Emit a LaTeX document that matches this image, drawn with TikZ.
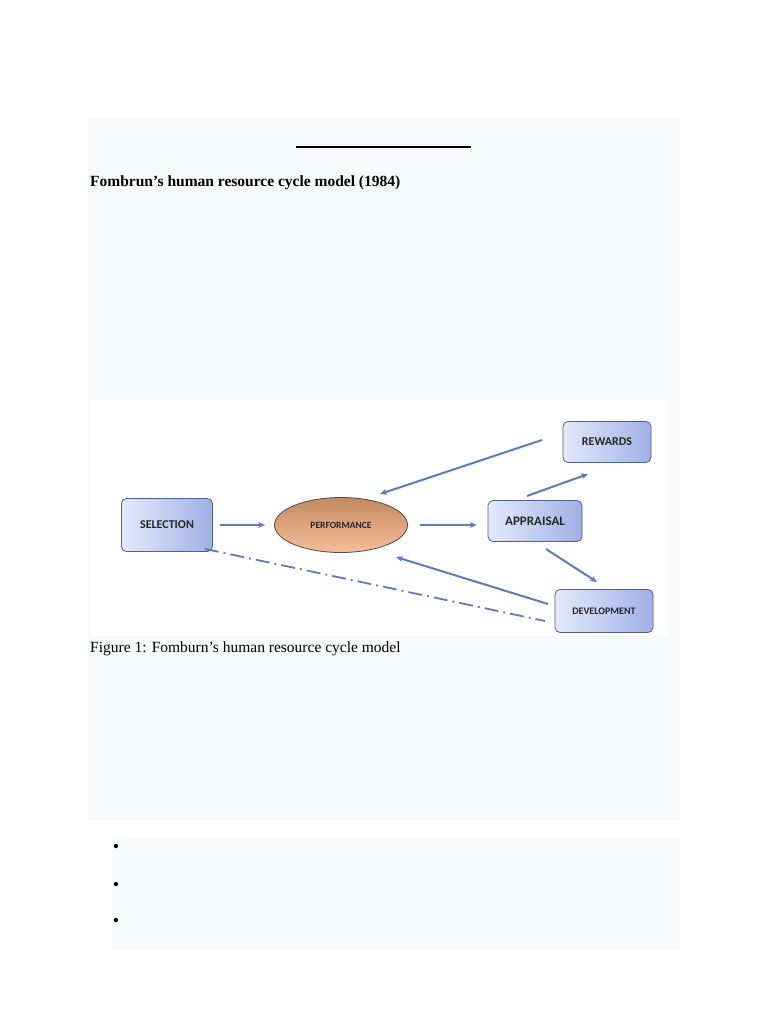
\documentclass[tikz,border=0pt]{standalone}
\usepackage{fontspec}
\setmainfont{Liberation Serif}
\newfontfamily\lbl{Carlito}
\usetikzlibrary{shapes.geometric,arrows.meta}
\definecolor{panel}{HTML}{F8F9FA}
\definecolor{arr}{HTML}{5B7DB8}
\definecolor{boxa}{HTML}{E4E9FA}
\definecolor{boxb}{HTML}{9FB0E6}
\definecolor{ella}{HTML}{F4BE98}
\definecolor{ellb}{HTML}{C48A62}
\tikzset{
  box/.style={draw=arr!80!black, line width=0.8pt, rounded corners=5pt, left color=boxa, right color=boxb, font=\lbl\bfseries\fontsize{12}{14}\selectfont, text=black!85},
  conn/.style={draw=arr, line width=2pt, -{Stealth[length=7pt,width=6pt]}},
}
\begin{document}
\begin{tikzpicture}[x=1pt,y=-1pt]
\useasboundingbox (0,0) rectangle (768,1024);
\fill[white] (0,0) rectangle (768,1024);
\fill[panel] (88,118) rectangle (680,820);
\fill[panel] (112,838) rectangle (680,950);
\fill[white] (90,400) rectangle (668,636);
\draw[line width=1.4pt] (296,147) -- (471,147);
\node[anchor=west, font=\bfseries\fontsize{15.5}{18}\selectfont, inner sep=0] (title) at (90,183) {Fombrun’s human resource cycle model (1984)};
\node[box, minimum width=91, minimum height=53] (sel) at (167,525) {SELECTION};
\node[ellipse, draw=black!70, line width=0.8pt, top color=ellb, bottom color=ella, minimum width=133, minimum height=55, font=\lbl\bfseries\fontsize{9.5}{11}\selectfont, text=black!85] (perf) at (341,525) {PERFORMANCE};
\node[box, minimum width=94, minimum height=41, font=\lbl\bfseries\fontsize{13}{15}\selectfont] (app) at (535,521) {APPRAISAL};
\node[box, minimum width=88, minimum height=41] (rew) at (607,442) {REWARDS};
\node[box, minimum width=98, minimum height=43, font=\lbl\bfseries\fontsize{10}{12}\selectfont] (dev) at (604,611) {DEVELOPMENT};
\draw[conn, line width=1.5pt] ([xshift=7pt]sel.east) -- ([xshift=-9pt]perf.west);
\draw[conn, line width=1.5pt] ([xshift=12pt]perf.east) -- ([xshift=-11pt]perf.east -| app.west);
\coordinate (r1) at (542,440);
\draw[conn] (r1) -- (380,494);
\draw[conn] (527,496) -- (588,474);
\draw[conn] (546,549) -- (597,582);
\coordinate (d1) at (548,604);
\draw[conn] (d1) -- (396,557);
\draw[arr, line width=1.8pt, dash pattern=on 14pt off 5pt on 2pt off 5pt] ([xshift=-8pt,yshift=3pt]sel.south east) -- (545,621);
\node[anchor=west, font=\fontsize{15.5}{18}\selectfont, inner sep=0] (cap) at (90,649) {Figure 1: Fomburn’s human resource cycle model};
\foreach \y/\n in {848/b1,886/b2,922/b3}
  \node[font=\fontsize{18}{20}\selectfont, inner sep=0] (\n) at (116,\y) {\textbullet};
\end{tikzpicture}
\end{document}
